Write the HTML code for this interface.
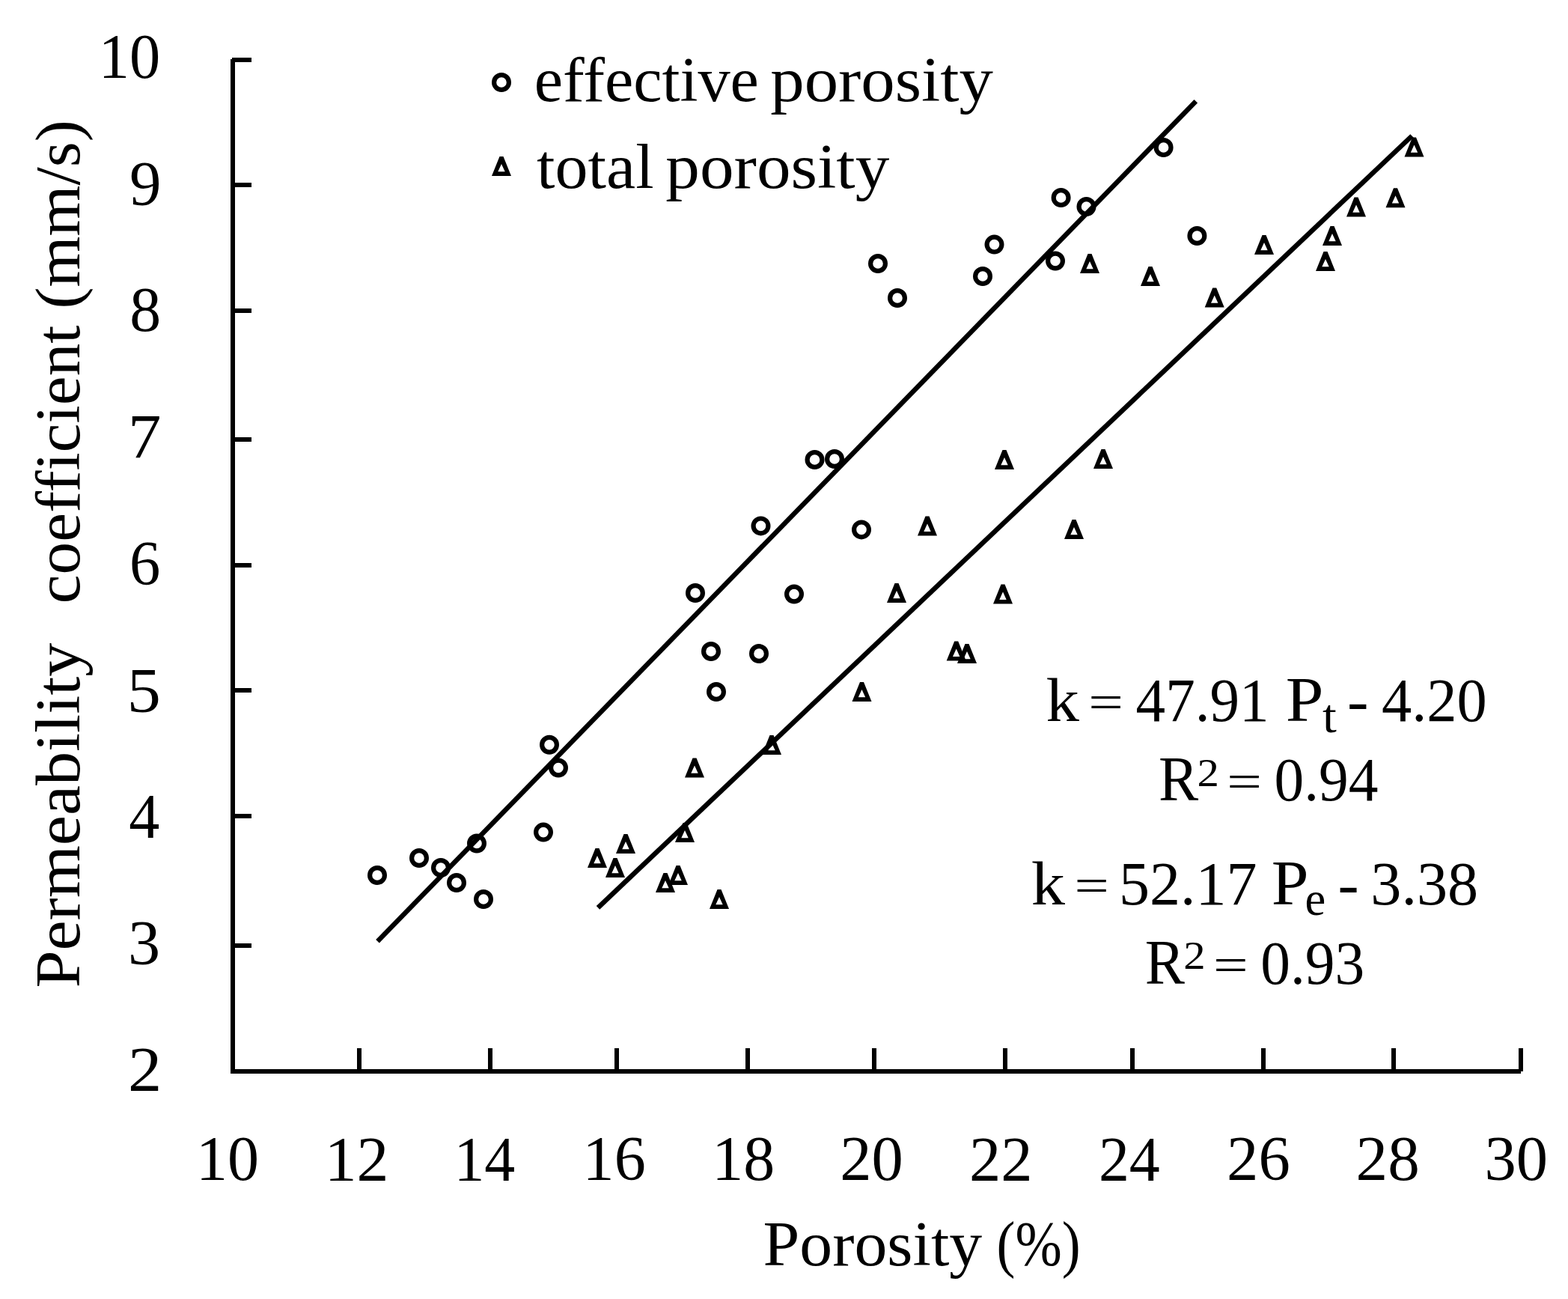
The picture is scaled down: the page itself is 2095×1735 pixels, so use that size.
<!DOCTYPE html>
<html><head><meta charset="utf-8"><title>Permeability vs Porosity</title>
<style>
html,body{margin:0;padding:0;background:#fff;}
body{width:2095px;height:1735px;overflow:hidden;}
svg{display:block;}
text{font-family:"Liberation Serif",serif;fill:#000;}
</style></head>
<body>
<svg width="2095" height="1735" viewBox="0 0 2095 1735">
<rect width="2095" height="1735" fill="#fff"/>
<path d="M311 79 V1434" stroke="#000" stroke-width="6" fill="none"/>
<path d="M310 1431 H2032" stroke="#000" stroke-width="6" fill="none"/>
<path d="M310 80 H336" stroke="#000" stroke-width="6"/>
<path d="M310 247 H336" stroke="#000" stroke-width="6"/>
<path d="M310 415 H336" stroke="#000" stroke-width="6"/>
<path d="M310 587 H336" stroke="#000" stroke-width="6"/>
<path d="M310 755 H336" stroke="#000" stroke-width="6"/>
<path d="M310 922 H336" stroke="#000" stroke-width="6"/>
<path d="M310 1090 H336" stroke="#000" stroke-width="6"/>
<path d="M310 1263 H336" stroke="#000" stroke-width="6"/>
<path d="M480 1400 V1431" stroke="#000" stroke-width="6"/>
<path d="M655 1400 V1431" stroke="#000" stroke-width="6"/>
<path d="M824 1400 V1431" stroke="#000" stroke-width="6"/>
<path d="M999 1400 V1431" stroke="#000" stroke-width="6"/>
<path d="M1168 1400 V1431" stroke="#000" stroke-width="6"/>
<path d="M1343 1400 V1431" stroke="#000" stroke-width="6"/>
<path d="M1513 1400 V1431" stroke="#000" stroke-width="6"/>
<path d="M1688 1400 V1431" stroke="#000" stroke-width="6"/>
<path d="M1862 1400 V1431" stroke="#000" stroke-width="6"/>
<path d="M2032 1400 V1431" stroke="#000" stroke-width="6"/>
<text x="131.8" y="104.2" font-size="84.5" textLength="82.4" lengthAdjust="spacingAndGlyphs">10</text>
<text x="173.0" y="273.7" font-size="84.5" textLength="42.5" lengthAdjust="spacingAndGlyphs">9</text>
<text x="173.3" y="442.4" font-size="84.5" textLength="41.9" lengthAdjust="spacingAndGlyphs">8</text>
<text x="171.1" y="611.8" font-size="84.5" textLength="44.4" lengthAdjust="spacingAndGlyphs">7</text>
<text x="173.1" y="781.2" font-size="84.5" textLength="41.3" lengthAdjust="spacingAndGlyphs">6</text>
<text x="169.8" y="950.5" font-size="84.5" textLength="45.1" lengthAdjust="spacingAndGlyphs">5</text>
<text x="172.3" y="1118.9" font-size="84.5" textLength="41.0" lengthAdjust="spacingAndGlyphs">4</text>
<text x="170.9" y="1288.4" font-size="84.5" textLength="43.1" lengthAdjust="spacingAndGlyphs">3</text>
<text x="170.9" y="1456.9" font-size="84.5" textLength="45.2" lengthAdjust="spacingAndGlyphs">2</text>
<text x="261.9" y="1576.2" font-size="84.5" textLength="84.1" lengthAdjust="spacingAndGlyphs">10</text>
<text x="433.7" y="1577.0" font-size="84.5" textLength="85.7" lengthAdjust="spacingAndGlyphs">12</text>
<text x="606.4" y="1577.0" font-size="84.5" textLength="81.9" lengthAdjust="spacingAndGlyphs">14</text>
<text x="778.6" y="1576.2" font-size="84.5" textLength="84.1" lengthAdjust="spacingAndGlyphs">16</text>
<text x="951.2" y="1576.2" font-size="84.5" textLength="84.0" lengthAdjust="spacingAndGlyphs">18</text>
<text x="1122.3" y="1576.2" font-size="84.5" textLength="84.5" lengthAdjust="spacingAndGlyphs">20</text>
<text x="1294.9" y="1577.0" font-size="84.5" textLength="84.5" lengthAdjust="spacingAndGlyphs">22</text>
<text x="1467.9" y="1577.0" font-size="84.5" textLength="81.9" lengthAdjust="spacingAndGlyphs">24</text>
<text x="1639.1" y="1576.2" font-size="84.5" textLength="84.7" lengthAdjust="spacingAndGlyphs">26</text>
<text x="1811.6" y="1576.2" font-size="84.5" textLength="85.2" lengthAdjust="spacingAndGlyphs">28</text>
<text x="1983.4" y="1576.2" font-size="84.5" textLength="84.6" lengthAdjust="spacingAndGlyphs">30</text>
<text x="1019.5" y="1690.0" font-size="84" textLength="292.7" lengthAdjust="spacingAndGlyphs">Porosity</text>
<text x="1331.6" y="1690.0" font-size="84" textLength="112.0" lengthAdjust="spacingAndGlyphs">(%)</text>
<text transform="translate(106,1317) rotate(-90)" x="-2.6" y="0" font-size="84" textLength="461.0" lengthAdjust="spacingAndGlyphs">Permeability</text>
<text transform="translate(106,803) rotate(-90)" x="-3.3" y="0" font-size="84" textLength="646.1" lengthAdjust="spacingAndGlyphs">coefficient (mm/s)</text>
<text x="713.8" y="135.0" font-size="84" textLength="300.1" lengthAdjust="spacingAndGlyphs">effective</text>
<text x="1029.3" y="135.0" font-size="84" textLength="297.6" lengthAdjust="spacingAndGlyphs">porosity</text>
<text x="717.1" y="251.0" font-size="84" textLength="156.5" lengthAdjust="spacingAndGlyphs">total</text>
<text x="889.3" y="251.0" font-size="84" textLength="299.0" lengthAdjust="spacingAndGlyphs">porosity</text>
<text x="1397.5" y="962.5" font-size="83.5" textLength="44.5" lengthAdjust="spacingAndGlyphs">k</text>
<text transform="translate(0 945.80) scale(1 0.7521) translate(0 -945.80)" x="1454.3" y="963.09" font-size="83.5" textLength="46.7" lengthAdjust="spacingAndGlyphs">=</text>
<text x="1517.6" y="962.5" font-size="83.5" textLength="177.9" lengthAdjust="spacingAndGlyphs">47.91</text>
<text x="1717.7" y="962.5" font-size="85.5" textLength="50.7" lengthAdjust="spacingAndGlyphs">P</text>
<text x="1767.0" y="977.6" font-size="64" textLength="18.8" lengthAdjust="spacingAndGlyphs">t</text>
<text x="1800.0" y="962.5" font-size="83.5" textLength="28.5" lengthAdjust="spacingAndGlyphs">-</text>
<text x="1846.0" y="962.5" font-size="83.5" textLength="140.7" lengthAdjust="spacingAndGlyphs">4.20</text>
<text x="1547.9" y="1069.0" font-size="85.5" textLength="53.2" lengthAdjust="spacingAndGlyphs">R</text>
<text x="1599.4" y="1049.8" font-size="53.6" textLength="29.4" lengthAdjust="spacingAndGlyphs">2</text>
<text transform="translate(0 1052.30) scale(1 0.7521) translate(0 -1052.30)" x="1639.3" y="1069.59" font-size="83.5" textLength="46.7" lengthAdjust="spacingAndGlyphs">=</text>
<text x="1702.5" y="1069.0" font-size="83.5" textLength="139.0" lengthAdjust="spacingAndGlyphs">0.94</text>
<text x="1377.8" y="1207.6" font-size="83.5" textLength="45.2" lengthAdjust="spacingAndGlyphs">k</text>
<text transform="translate(0 1190.90) scale(1 0.7521) translate(0 -1190.90)" x="1435.6" y="1208.19" font-size="83.5" textLength="46.3" lengthAdjust="spacingAndGlyphs">=</text>
<text x="1495.0" y="1207.6" font-size="83.5" textLength="184.6" lengthAdjust="spacingAndGlyphs">52.17</text>
<text x="1698.8" y="1207.6" font-size="85.5" textLength="49.8" lengthAdjust="spacingAndGlyphs">P</text>
<text x="1743.5" y="1222.0" font-size="64" textLength="27.7" lengthAdjust="spacingAndGlyphs">e</text>
<text x="1787.6" y="1207.6" font-size="83.5" textLength="28.1" lengthAdjust="spacingAndGlyphs">-</text>
<text x="1831.3" y="1207.6" font-size="83.5" textLength="143.9" lengthAdjust="spacingAndGlyphs">3.38</text>
<text x="1529.7" y="1313.5" font-size="85.5" textLength="53.2" lengthAdjust="spacingAndGlyphs">R</text>
<text x="1581.2" y="1294.3" font-size="53.6" textLength="29.4" lengthAdjust="spacingAndGlyphs">2</text>
<text transform="translate(0 1296.80) scale(1 0.7521) translate(0 -1296.80)" x="1621.1" y="1314.09" font-size="83.5" textLength="46.7" lengthAdjust="spacingAndGlyphs">=</text>
<text x="1684.3" y="1313.5" font-size="83.5" textLength="139.0" lengthAdjust="spacingAndGlyphs">0.93</text>
<path d="M504.5 1257.2 L1597.8 135.3" stroke="#000" stroke-width="6.5" fill="none"/>
<path d="M799 1212.4 L1886.5 181.5" stroke="#000" stroke-width="6.5" fill="none"/>
<circle cx="504" cy="1169" r="9.9" fill="none" stroke="#000" stroke-width="6.2"/>
<circle cx="560" cy="1146" r="9.9" fill="none" stroke="#000" stroke-width="6.2"/>
<circle cx="589" cy="1159" r="9.9" fill="none" stroke="#000" stroke-width="6.2"/>
<circle cx="610" cy="1179" r="9.9" fill="none" stroke="#000" stroke-width="6.2"/>
<circle cx="637" cy="1126.5" r="9.9" fill="none" stroke="#000" stroke-width="6.2"/>
<circle cx="646" cy="1201" r="9.9" fill="none" stroke="#000" stroke-width="6.2"/>
<circle cx="726" cy="1111.6" r="9.9" fill="none" stroke="#000" stroke-width="6.2"/>
<circle cx="734" cy="994.7" r="9.9" fill="none" stroke="#000" stroke-width="6.2"/>
<circle cx="746" cy="1025.5" r="9.9" fill="none" stroke="#000" stroke-width="6.2"/>
<circle cx="929" cy="792" r="9.9" fill="none" stroke="#000" stroke-width="6.2"/>
<circle cx="950" cy="870" r="9.9" fill="none" stroke="#000" stroke-width="6.2"/>
<circle cx="957" cy="924" r="9.9" fill="none" stroke="#000" stroke-width="6.2"/>
<circle cx="1014" cy="873" r="9.9" fill="none" stroke="#000" stroke-width="6.2"/>
<circle cx="1016.5" cy="702.4" r="9.9" fill="none" stroke="#000" stroke-width="6.2"/>
<circle cx="1061" cy="793.5" r="9.9" fill="none" stroke="#000" stroke-width="6.2"/>
<circle cx="1088.5" cy="614" r="9.9" fill="none" stroke="#000" stroke-width="6.2"/>
<circle cx="1115" cy="613" r="9.9" fill="none" stroke="#000" stroke-width="6.2"/>
<circle cx="1151" cy="707.4" r="9.9" fill="none" stroke="#000" stroke-width="6.2"/>
<circle cx="1173" cy="352" r="9.9" fill="none" stroke="#000" stroke-width="6.2"/>
<circle cx="1199" cy="398" r="9.9" fill="none" stroke="#000" stroke-width="6.2"/>
<circle cx="1313" cy="369" r="9.9" fill="none" stroke="#000" stroke-width="6.2"/>
<circle cx="1328.5" cy="326.6" r="9.9" fill="none" stroke="#000" stroke-width="6.2"/>
<circle cx="1410" cy="348.5" r="9.9" fill="none" stroke="#000" stroke-width="6.2"/>
<circle cx="1417.6" cy="264" r="9.9" fill="none" stroke="#000" stroke-width="6.2"/>
<circle cx="1451.5" cy="276" r="9.9" fill="none" stroke="#000" stroke-width="6.2"/>
<circle cx="1554.6" cy="197" r="9.9" fill="none" stroke="#000" stroke-width="6.2"/>
<circle cx="1599.4" cy="315" r="9.9" fill="none" stroke="#000" stroke-width="6.2"/>
<circle cx="670" cy="110" r="9.9" fill="none" stroke="#000" stroke-width="6.2"/>
<path d="M795.5 1133.0H800.5L811.0 1159.0H785.0ZM798.0 1143.0L802.7 1153.3H793.3Z" fill="#000" fill-rule="evenodd"/>
<path d="M819.5 1146.0H824.5L835.0 1172.0H809.0ZM822.0 1156.0L826.7 1166.3H817.3Z" fill="#000" fill-rule="evenodd"/>
<path d="M833.5 1114.0H838.5L849.0 1140.0H823.0ZM836.0 1124.0L840.7 1134.3H831.3Z" fill="#000" fill-rule="evenodd"/>
<path d="M886.5 1166.0H891.5L902.0 1192.0H876.0ZM889.0 1176.0L893.7 1186.3H884.3Z" fill="#000" fill-rule="evenodd"/>
<path d="M903.5 1156.0H908.5L919.0 1182.0H893.0ZM906.0 1166.0L910.7 1176.3H901.3Z" fill="#000" fill-rule="evenodd"/>
<path d="M912.5 1099.0H917.5L928.0 1125.0H902.0ZM915.0 1109.0L919.7 1119.3H910.3Z" fill="#000" fill-rule="evenodd"/>
<path d="M925.5 1012.5H930.5L941.0 1038.5H915.0ZM928.0 1022.5L932.7 1032.8H923.3Z" fill="#000" fill-rule="evenodd"/>
<path d="M958.5 1188.0H963.5L974.0 1214.0H948.0ZM961.0 1198.0L965.7 1208.3H956.3Z" fill="#000" fill-rule="evenodd"/>
<path d="M1028.5 982.0H1033.5L1044.0 1008.0H1018.0ZM1031.0 992.0L1035.7 1002.3H1026.3Z" fill="#000" fill-rule="evenodd"/>
<path d="M1149.0 911.0H1154.0L1164.5 937.0H1138.5ZM1151.5 921.0L1156.2 931.3H1146.8Z" fill="#000" fill-rule="evenodd"/>
<path d="M1195.5 779.0H1200.5L1211.0 805.0H1185.0ZM1198.0 789.0L1202.7 799.3H1193.3Z" fill="#000" fill-rule="evenodd"/>
<path d="M1236.5 689.6H1241.5L1252.0 715.6H1226.0ZM1239.0 699.6L1243.7 709.9H1234.3Z" fill="#000" fill-rule="evenodd"/>
<path d="M1275.2 856.6H1280.2L1290.7 882.6H1264.7ZM1277.7 866.6L1282.4 876.9H1273.0Z" fill="#000" fill-rule="evenodd"/>
<path d="M1289.5 860.0H1294.5L1305.0 886.0H1279.0ZM1292.0 870.0L1296.7 880.3H1287.3Z" fill="#000" fill-rule="evenodd"/>
<path d="M1337.5 780.6H1342.5L1353.0 806.6H1327.0ZM1340.0 790.6L1344.7 800.9H1335.3Z" fill="#000" fill-rule="evenodd"/>
<path d="M1339.5 601.0H1344.5L1355.0 627.0H1329.0ZM1342.0 611.0L1346.7 621.3H1337.3Z" fill="#000" fill-rule="evenodd"/>
<path d="M1432.5 694.0H1437.5L1448.0 720.0H1422.0ZM1435.0 704.0L1439.7 714.3H1430.3Z" fill="#000" fill-rule="evenodd"/>
<path d="M1453.5 339.0H1458.5L1469.0 365.0H1443.0ZM1456.0 349.0L1460.7 359.3H1451.3Z" fill="#000" fill-rule="evenodd"/>
<path d="M1471.5 600.0H1476.5L1487.0 626.0H1461.0ZM1474.0 610.0L1478.7 620.3H1469.3Z" fill="#000" fill-rule="evenodd"/>
<path d="M1534.5 356.0H1539.5L1550.0 382.0H1524.0ZM1537.0 366.0L1541.7 376.3H1532.3Z" fill="#000" fill-rule="evenodd"/>
<path d="M1620.2 384.5H1625.2L1635.7 410.5H1609.7ZM1622.7 394.5L1627.4 404.8H1618.0Z" fill="#000" fill-rule="evenodd"/>
<path d="M1686.5 314.0H1691.5L1702.0 340.0H1676.0ZM1689.0 324.0L1693.7 334.3H1684.3Z" fill="#000" fill-rule="evenodd"/>
<path d="M1768.5 336.0H1773.5L1784.0 362.0H1758.0ZM1771.0 346.0L1775.7 356.3H1766.3Z" fill="#000" fill-rule="evenodd"/>
<path d="M1777.5 302.0H1782.5L1793.0 328.0H1767.0ZM1780.0 312.0L1784.7 322.3H1775.3Z" fill="#000" fill-rule="evenodd"/>
<path d="M1809.5 263.4H1814.5L1825.0 289.4H1799.0ZM1812.0 273.4L1816.7 283.7H1807.3Z" fill="#000" fill-rule="evenodd"/>
<path d="M1862.0 251.3H1867.0L1877.5 277.3H1851.5ZM1864.5 261.3L1869.2 271.6H1859.8Z" fill="#000" fill-rule="evenodd"/>
<path d="M1887.0 183.5H1892.0L1902.5 209.5H1876.5ZM1889.5 193.5L1894.2 203.8H1884.8Z" fill="#000" fill-rule="evenodd"/>
<path d="M667.5 209.0H672.5L683.0 235.0H657.0ZM670.0 219.0L674.7 229.3H665.3Z" fill="#000" fill-rule="evenodd"/>
</svg>
</body></html>
